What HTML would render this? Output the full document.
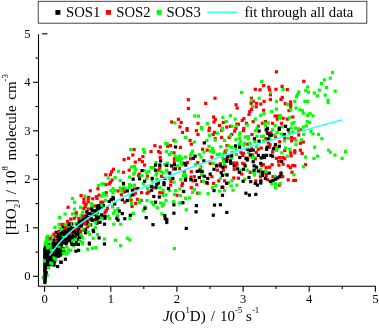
<!DOCTYPE html>
<html><head><meta charset="utf-8"><title>HO2 vs J(O1D)</title>
<style>html,body{margin:0;padding:0;background:#fff}svg{display:block}text{font-family:"Liberation Serif",serif;fill:#000}</style></head>
<body>
<svg width="379" height="328" viewBox="0 0 379 328">
<rect width="379" height="328" fill="#fff"/>
<g fill="#f00"><rect x="302.2" y="79.7" width="3.2" height="3.2"/><rect x="274.8" y="70.2" width="3.2" height="3.2"/><rect x="186.7" y="98.1" width="3.2" height="3.2"/><rect x="213.4" y="96.6" width="3.2" height="3.2"/><rect x="204.1" y="101.8" width="3.2" height="3.2"/><rect x="297.1" y="129.7" width="3.2" height="3.2"/><rect x="299.2" y="128.4" width="3.2" height="3.2"/><rect x="297.1" y="133.4" width="3.2" height="3.2"/><rect x="293.2" y="137.3" width="3.2" height="3.2"/><rect x="301.7" y="140.4" width="3.2" height="3.2"/><rect x="298.8" y="141.6" width="3.2" height="3.2"/><rect x="298.8" y="148.6" width="3.2" height="3.2"/><rect x="293.2" y="149.1" width="3.2" height="3.2"/><rect x="132.5" y="148.0" width="3.2" height="3.2"/><rect x="153.3" y="144.1" width="3.2" height="3.2"/><rect x="158.7" y="145.4" width="3.2" height="3.2"/><rect x="149.4" y="150.0" width="3.2" height="3.2"/><rect x="157.0" y="150.0" width="3.2" height="3.2"/><rect x="300.5" y="151.8" width="3.2" height="3.2"/><rect x="293.2" y="151.2" width="3.2" height="3.2"/><rect x="303.9" y="163.1" width="3.2" height="3.2"/><rect x="293.2" y="164.2" width="3.2" height="3.2"/><rect x="293.8" y="178.8" width="3.2" height="3.2"/><rect x="96.3" y="187.2" width="3.2" height="3.2"/><rect x="88.7" y="189.2" width="3.2" height="3.2"/><rect x="79.5" y="194.0" width="3.2" height="3.2"/><rect x="87.1" y="195.7" width="3.2" height="3.2"/><rect x="94.7" y="195.1" width="3.2" height="3.2"/><rect x="97.5" y="193.5" width="3.2" height="3.2"/><rect x="66.5" y="205.7" width="3.2" height="3.2"/><rect x="172.4" y="151.2" width="3.2" height="3.2"/><rect x="172.8" y="157.2" width="3.2" height="3.2"/><rect x="172.8" y="160.1" width="3.2" height="3.2"/><rect x="188.9" y="157.2" width="3.2" height="3.2"/><rect x="185.9" y="161.0" width="3.2" height="3.2"/><rect x="177.9" y="166.9" width="3.2" height="3.2"/><rect x="172.0" y="167.3" width="3.2" height="3.2"/><rect x="189.7" y="170.2" width="3.2" height="3.2"/><rect x="196.1" y="161.0" width="3.2" height="3.2"/><rect x="182.6" y="170.2" width="3.2" height="3.2"/><rect x="210.3" y="155.5" width="3.2" height="3.2"/><rect x="223.4" y="150.8" width="3.2" height="3.2"/><rect x="208.6" y="161.8" width="3.2" height="3.2"/><rect x="218.8" y="162.2" width="3.2" height="3.2"/><rect x="215.4" y="163.5" width="3.2" height="3.2"/><rect x="215.8" y="168.6" width="3.2" height="3.2"/><rect x="223.8" y="165.2" width="3.2" height="3.2"/><rect x="222.2" y="158.0" width="3.2" height="3.2"/><rect x="221.7" y="168.6" width="3.2" height="3.2"/><rect x="198.5" y="167.7" width="3.2" height="3.2"/><rect x="169.5" y="179.7" width="3.2" height="3.2"/><rect x="169.0" y="183.5" width="3.2" height="3.2"/><rect x="180.9" y="181.8" width="3.2" height="3.2"/><rect x="180.4" y="184.0" width="3.2" height="3.2"/><rect x="184.2" y="176.4" width="3.2" height="3.2"/><rect x="189.3" y="175.5" width="3.2" height="3.2"/><rect x="192.7" y="175.1" width="3.2" height="3.2"/><rect x="191.4" y="179.3" width="3.2" height="3.2"/><rect x="195.2" y="183.1" width="3.2" height="3.2"/><rect x="189.7" y="186.1" width="3.2" height="3.2"/><rect x="175.4" y="193.7" width="3.2" height="3.2"/><rect x="196.1" y="191.6" width="3.2" height="3.2"/><rect x="210.3" y="175.1" width="3.2" height="3.2"/><rect x="200.2" y="179.7" width="3.2" height="3.2"/><rect x="205.7" y="181.8" width="3.2" height="3.2"/><rect x="212.0" y="181.8" width="3.2" height="3.2"/><rect x="217.1" y="179.3" width="3.2" height="3.2"/><rect x="223.0" y="179.3" width="3.2" height="3.2"/><rect x="221.3" y="185.6" width="3.2" height="3.2"/><rect x="158.6" y="151.2" width="3.2" height="3.2"/><rect x="141.3" y="155.0" width="3.2" height="3.2"/><rect x="137.9" y="158.0" width="3.2" height="3.2"/><rect x="140.8" y="160.1" width="3.2" height="3.2"/><rect x="133.7" y="160.5" width="3.2" height="3.2"/><rect x="143.0" y="163.5" width="3.2" height="3.2"/><rect x="158.6" y="155.9" width="3.2" height="3.2"/><rect x="158.2" y="166.0" width="3.2" height="3.2"/><rect x="137.9" y="172.5" width="3.2" height="3.2"/><rect x="157.3" y="168.6" width="3.2" height="3.2"/><rect x="131.2" y="153.4" width="3.2" height="3.2"/><rect x="127.0" y="156.7" width="3.2" height="3.2"/><rect x="122.5" y="158.0" width="3.2" height="3.2"/><rect x="111.8" y="167.7" width="3.2" height="3.2"/><rect x="110.1" y="170.2" width="3.2" height="3.2"/><rect x="121.9" y="170.7" width="3.2" height="3.2"/><rect x="127.6" y="168.6" width="3.2" height="3.2"/><rect x="108.8" y="173.0" width="3.2" height="3.2"/><rect x="104.2" y="173.2" width="3.2" height="3.2"/><rect x="110.5" y="178.5" width="3.2" height="3.2"/><rect x="108.8" y="180.6" width="3.2" height="3.2"/><rect x="107.6" y="182.3" width="3.2" height="3.2"/><rect x="104.2" y="183.1" width="3.2" height="3.2"/><rect x="116.4" y="189.4" width="3.2" height="3.2"/><rect x="122.8" y="190.3" width="3.2" height="3.2"/><rect x="104.6" y="191.1" width="3.2" height="3.2"/><rect x="119.8" y="193.2" width="3.2" height="3.2"/><rect x="132.1" y="193.2" width="3.2" height="3.2"/><rect x="121.5" y="187.8" width="3.2" height="3.2"/><rect x="145.9" y="174.7" width="3.2" height="3.2"/><rect x="137.0" y="173.8" width="3.2" height="3.2"/><rect x="159.8" y="174.7" width="3.2" height="3.2"/><rect x="140.0" y="191.1" width="3.2" height="3.2"/><rect x="145.5" y="191.6" width="3.2" height="3.2"/><rect x="147.2" y="190.3" width="3.2" height="3.2"/><rect x="158.2" y="191.1" width="3.2" height="3.2"/><rect x="133.7" y="191.6" width="3.2" height="3.2"/><rect x="133.2" y="187.3" width="3.2" height="3.2"/><rect x="161.1" y="191.1" width="3.2" height="3.2"/><rect x="151.4" y="185.6" width="3.2" height="3.2"/><rect x="239.4" y="151.2" width="3.2" height="3.2"/><rect x="241.9" y="151.7" width="3.2" height="3.2"/><rect x="241.1" y="153.8" width="3.2" height="3.2"/><rect x="250.8" y="153.4" width="3.2" height="3.2"/><rect x="254.6" y="150.8" width="3.2" height="3.2"/><rect x="253.7" y="157.2" width="3.2" height="3.2"/><rect x="232.2" y="161.4" width="3.2" height="3.2"/><rect x="235.2" y="161.4" width="3.2" height="3.2"/><rect x="235.2" y="163.5" width="3.2" height="3.2"/><rect x="241.1" y="161.8" width="3.2" height="3.2"/><rect x="242.8" y="162.6" width="3.2" height="3.2"/><rect x="246.1" y="156.7" width="3.2" height="3.2"/><rect x="232.6" y="167.7" width="3.2" height="3.2"/><rect x="240.2" y="172.4" width="3.2" height="3.2"/><rect x="248.7" y="170.7" width="3.2" height="3.2"/><rect x="259.2" y="170.2" width="3.2" height="3.2"/><rect x="260.1" y="163.9" width="3.2" height="3.2"/><rect x="271.0" y="150.4" width="3.2" height="3.2"/><rect x="289.1" y="151.2" width="3.2" height="3.2"/><rect x="289.5" y="154.2" width="3.2" height="3.2"/><rect x="274.8" y="156.7" width="3.2" height="3.2"/><rect x="278.1" y="155.9" width="3.2" height="3.2"/><rect x="281.5" y="155.9" width="3.2" height="3.2"/><rect x="283.2" y="157.2" width="3.2" height="3.2"/><rect x="276.9" y="159.7" width="3.2" height="3.2"/><rect x="270.5" y="163.1" width="3.2" height="3.2"/><rect x="277.3" y="163.5" width="3.2" height="3.2"/><rect x="281.5" y="162.6" width="3.2" height="3.2"/><rect x="261.7" y="163.1" width="3.2" height="3.2"/><rect x="264.6" y="166.0" width="3.2" height="3.2"/><rect x="268.0" y="165.6" width="3.2" height="3.2"/><rect x="286.6" y="164.3" width="3.2" height="3.2"/><rect x="288.7" y="166.0" width="3.2" height="3.2"/><rect x="291.2" y="163.9" width="3.2" height="3.2"/><rect x="290.4" y="170.7" width="3.2" height="3.2"/><rect x="279.4" y="171.1" width="3.2" height="3.2"/><rect x="264.6" y="172.5" width="3.2" height="3.2"/><rect x="232.2" y="176.4" width="3.2" height="3.2"/><rect x="236.8" y="176.6" width="3.2" height="3.2"/><rect x="254.2" y="179.3" width="3.2" height="3.2"/><rect x="258.8" y="175.1" width="3.2" height="3.2"/><rect x="264.6" y="174.2" width="3.2" height="3.2"/><rect x="265.9" y="178.0" width="3.2" height="3.2"/><rect x="271.4" y="175.1" width="3.2" height="3.2"/><rect x="281.1" y="175.1" width="3.2" height="3.2"/><rect x="286.6" y="178.3" width="3.2" height="3.2"/><rect x="277.7" y="183.5" width="3.2" height="3.2"/><rect x="292.1" y="178.9" width="3.2" height="3.2"/><rect x="233.0" y="129.5" width="3.2" height="3.2"/><rect x="241.9" y="129.1" width="3.2" height="3.2"/><rect x="230.1" y="132.9" width="3.2" height="3.2"/><rect x="250.4" y="132.9" width="3.2" height="3.2"/><rect x="246.1" y="142.6" width="3.2" height="3.2"/><rect x="249.9" y="147.2" width="3.2" height="3.2"/><rect x="256.7" y="147.7" width="3.2" height="3.2"/><rect x="259.6" y="146.4" width="3.2" height="3.2"/><rect x="265.5" y="130.4" width="3.2" height="3.2"/><rect x="269.3" y="131.2" width="3.2" height="3.2"/><rect x="264.2" y="137.1" width="3.2" height="3.2"/><rect x="273.9" y="135.4" width="3.2" height="3.2"/><rect x="278.1" y="140.1" width="3.2" height="3.2"/><rect x="268.4" y="143.0" width="3.2" height="3.2"/><rect x="266.7" y="141.3" width="3.2" height="3.2"/><rect x="290.0" y="135.8" width="3.2" height="3.2"/><rect x="290.0" y="139.2" width="3.2" height="3.2"/><rect x="273.1" y="145.6" width="3.2" height="3.2"/><rect x="283.2" y="148.9" width="3.2" height="3.2"/><rect x="267.6" y="145.6" width="3.2" height="3.2"/><rect x="283.2" y="136.7" width="3.2" height="3.2"/><rect x="235.6" y="106.5" width="3.2" height="3.2"/><rect x="254.6" y="105.2" width="3.2" height="3.2"/><rect x="249.9" y="107.8" width="3.2" height="3.2"/><rect x="248.2" y="109.9" width="3.2" height="3.2"/><rect x="247.4" y="112.8" width="3.2" height="3.2"/><rect x="242.3" y="117.1" width="3.2" height="3.2"/><rect x="240.6" y="118.8" width="3.2" height="3.2"/><rect x="251.6" y="120.0" width="3.2" height="3.2"/><rect x="236.8" y="122.6" width="3.2" height="3.2"/><rect x="235.2" y="122.6" width="3.2" height="3.2"/><rect x="244.9" y="121.7" width="3.2" height="3.2"/><rect x="256.7" y="124.7" width="3.2" height="3.2"/><rect x="242.3" y="126.8" width="3.2" height="3.2"/><rect x="228.8" y="124.7" width="3.2" height="3.2"/><rect x="234.3" y="126.8" width="3.2" height="3.2"/><rect x="262.1" y="108.6" width="3.2" height="3.2"/><rect x="287.4" y="109.0" width="3.2" height="3.2"/><rect x="273.5" y="114.5" width="3.2" height="3.2"/><rect x="276.0" y="114.5" width="3.2" height="3.2"/><rect x="275.6" y="117.5" width="3.2" height="3.2"/><rect x="281.5" y="116.6" width="3.2" height="3.2"/><rect x="285.7" y="117.5" width="3.2" height="3.2"/><rect x="291.2" y="115.4" width="3.2" height="3.2"/><rect x="263.8" y="120.0" width="3.2" height="3.2"/><rect x="271.0" y="121.7" width="3.2" height="3.2"/><rect x="279.8" y="121.7" width="3.2" height="3.2"/><rect x="260.8" y="121.7" width="3.2" height="3.2"/><rect x="289.1" y="104.8" width="3.2" height="3.2"/><rect x="207.4" y="129.1" width="3.2" height="3.2"/><rect x="212.9" y="130.8" width="3.2" height="3.2"/><rect x="211.6" y="132.9" width="3.2" height="3.2"/><rect x="220.0" y="128.7" width="3.2" height="3.2"/><rect x="220.0" y="135.8" width="3.2" height="3.2"/><rect x="213.7" y="137.1" width="3.2" height="3.2"/><rect x="196.4" y="132.9" width="3.2" height="3.2"/><rect x="225.5" y="143.9" width="3.2" height="3.2"/><rect x="201.0" y="147.7" width="3.2" height="3.2"/><rect x="205.7" y="148.5" width="3.2" height="3.2"/><rect x="223.8" y="149.5" width="3.2" height="3.2"/><rect x="227.6" y="135.8" width="3.2" height="3.2"/><rect x="185.5" y="128.7" width="3.2" height="3.2"/><rect x="180.9" y="130.8" width="3.2" height="3.2"/><rect x="194.8" y="129.1" width="3.2" height="3.2"/><rect x="172.4" y="138.8" width="3.2" height="3.2"/><rect x="188.5" y="138.8" width="3.2" height="3.2"/><rect x="189.7" y="142.6" width="3.2" height="3.2"/><rect x="169.0" y="143.9" width="3.2" height="3.2"/><rect x="166.1" y="144.7" width="3.2" height="3.2"/><rect x="178.8" y="145.8" width="3.2" height="3.2"/><rect x="212.0" y="115.4" width="3.2" height="3.2"/><rect x="213.7" y="117.9" width="3.2" height="3.2"/><rect x="212.4" y="120.4" width="3.2" height="3.2"/><rect x="221.7" y="120.9" width="3.2" height="3.2"/><rect x="217.9" y="123.8" width="3.2" height="3.2"/><rect x="225.1" y="125.5" width="3.2" height="3.2"/><rect x="207.8" y="126.5" width="3.2" height="3.2"/><rect x="196.4" y="121.7" width="3.2" height="3.2"/><rect x="186.8" y="106.9" width="3.2" height="3.2"/><rect x="176.8" y="117.7" width="3.2" height="3.2"/><rect x="170.1" y="120.4" width="3.2" height="3.2"/><rect x="179.6" y="120.9" width="3.2" height="3.2"/><rect x="178.3" y="125.3" width="3.2" height="3.2"/><rect x="185.5" y="127.0" width="3.2" height="3.2"/><rect x="253.7" y="87.7" width="3.2" height="3.2"/><rect x="258.4" y="88.2" width="3.2" height="3.2"/><rect x="249.9" y="96.6" width="3.2" height="3.2"/><rect x="251.6" y="99.6" width="3.2" height="3.2"/><rect x="249.5" y="101.7" width="3.2" height="3.2"/><rect x="255.0" y="101.7" width="3.2" height="3.2"/><rect x="259.2" y="102.5" width="3.2" height="3.2"/><rect x="234.5" y="103.2" width="3.2" height="3.2"/><rect x="262.1" y="83.9" width="3.2" height="3.2"/><rect x="267.2" y="85.6" width="3.2" height="3.2"/><rect x="268.0" y="88.2" width="3.2" height="3.2"/><rect x="274.3" y="87.7" width="3.2" height="3.2"/><rect x="280.5" y="84.8" width="3.2" height="3.2"/><rect x="285.7" y="88.0" width="3.2" height="3.2"/><rect x="268.8" y="93.2" width="3.2" height="3.2"/><rect x="268.8" y="97.9" width="3.2" height="3.2"/><rect x="262.5" y="99.8" width="3.2" height="3.2"/><rect x="280.7" y="95.8" width="3.2" height="3.2"/><rect x="279.4" y="97.9" width="3.2" height="3.2"/><rect x="288.9" y="100.4" width="3.2" height="3.2"/><rect x="283.6" y="102.1" width="3.2" height="3.2"/><rect x="289.1" y="102.9" width="3.2" height="3.2"/><rect x="101.2" y="200.6" width="3.2" height="3.2"/><rect x="123.2" y="200.6" width="3.2" height="3.2"/><rect x="129.5" y="198.5" width="3.2" height="3.2"/><rect x="130.4" y="204.8" width="3.2" height="3.2"/><rect x="104.6" y="209.1" width="3.2" height="3.2"/><rect x="103.4" y="210.8" width="3.2" height="3.2"/><rect x="100.8" y="214.6" width="3.2" height="3.2"/><rect x="105.9" y="206.5" width="3.2" height="3.2"/><rect x="135.8" y="197.7" width="3.2" height="3.2"/><rect x="134.1" y="201.9" width="3.2" height="3.2"/><rect x="139.6" y="198.9" width="3.2" height="3.2"/></g>
<g fill="#0f0"><rect x="330.9" y="70.9" width="3.2" height="3.2"/><rect x="328.7" y="76.6" width="3.2" height="3.2"/><rect x="322.8" y="78.3" width="3.2" height="3.2"/><rect x="319.8" y="82.0" width="3.2" height="3.2"/><rect x="325.0" y="85.9" width="3.2" height="3.2"/><rect x="317.7" y="88.5" width="3.2" height="3.2"/><rect x="305.9" y="85.4" width="3.2" height="3.2"/><rect x="304.2" y="89.0" width="3.2" height="3.2"/><rect x="306.8" y="90.5" width="3.2" height="3.2"/><rect x="312.7" y="91.5" width="3.2" height="3.2"/><rect x="315.7" y="94.2" width="3.2" height="3.2"/><rect x="323.6" y="93.5" width="3.2" height="3.2"/><rect x="333.6" y="89.5" width="3.2" height="3.2"/><rect x="297.1" y="90.5" width="3.2" height="3.2"/><rect x="296.1" y="93.0" width="3.2" height="3.2"/><rect x="294.8" y="95.2" width="3.2" height="3.2"/><rect x="293.2" y="99.8" width="3.2" height="3.2"/><rect x="303.4" y="99.8" width="3.2" height="3.2"/><rect x="305.9" y="99.8" width="3.2" height="3.2"/><rect x="326.5" y="98.6" width="3.2" height="3.2"/><rect x="326.5" y="101.0" width="3.2" height="3.2"/><rect x="260.1" y="79.7" width="3.2" height="3.2"/><rect x="294.4" y="106.4" width="3.2" height="3.2"/><rect x="298.3" y="108.1" width="3.2" height="3.2"/><rect x="300.8" y="109.1" width="3.2" height="3.2"/><rect x="301.7" y="111.5" width="3.2" height="3.2"/><rect x="308.4" y="112.0" width="3.2" height="3.2"/><rect x="305.9" y="113.7" width="3.2" height="3.2"/><rect x="311.3" y="114.2" width="3.2" height="3.2"/><rect x="305.6" y="119.9" width="3.2" height="3.2"/><rect x="307.9" y="120.9" width="3.2" height="3.2"/><rect x="292.4" y="120.9" width="3.2" height="3.2"/><rect x="304.6" y="124.3" width="3.2" height="3.2"/><rect x="301.7" y="125.5" width="3.2" height="3.2"/><rect x="293.8" y="126.4" width="3.2" height="3.2"/><rect x="297.1" y="127.2" width="3.2" height="3.2"/><rect x="309.3" y="129.7" width="3.2" height="3.2"/><rect x="311.3" y="132.3" width="3.2" height="3.2"/><rect x="302.2" y="132.8" width="3.2" height="3.2"/><rect x="316.9" y="132.8" width="3.2" height="3.2"/><rect x="320.3" y="137.0" width="3.2" height="3.2"/><rect x="300.0" y="138.2" width="3.2" height="3.2"/><rect x="294.4" y="139.0" width="3.2" height="3.2"/><rect x="294.4" y="142.9" width="3.2" height="3.2"/><rect x="313.0" y="145.6" width="3.2" height="3.2"/><rect x="327.0" y="148.6" width="3.2" height="3.2"/><rect x="343.9" y="149.7" width="3.2" height="3.2"/><rect x="129.1" y="148.0" width="3.2" height="3.2"/><rect x="141.8" y="148.0" width="3.2" height="3.2"/><rect x="164.2" y="141.9" width="3.2" height="3.2"/><rect x="303.9" y="155.5" width="3.2" height="3.2"/><rect x="312.3" y="156.8" width="3.2" height="3.2"/><rect x="316.0" y="154.6" width="3.2" height="3.2"/><rect x="328.7" y="150.7" width="3.2" height="3.2"/><rect x="333.3" y="153.4" width="3.2" height="3.2"/><rect x="340.5" y="156.8" width="3.2" height="3.2"/><rect x="343.9" y="150.4" width="3.2" height="3.2"/><rect x="302.0" y="165.1" width="3.2" height="3.2"/><rect x="292.4" y="173.2" width="3.2" height="3.2"/><rect x="96.9" y="183.8" width="3.2" height="3.2"/><rect x="83.3" y="194.6" width="3.2" height="3.2"/><rect x="100.2" y="194.6" width="3.2" height="3.2"/><rect x="100.2" y="182.5" width="3.2" height="3.2"/><rect x="172.0" y="200.1" width="3.2" height="3.2"/><rect x="177.9" y="201.5" width="3.2" height="3.2"/><rect x="183.8" y="196.7" width="3.2" height="3.2"/><rect x="187.7" y="196.4" width="3.2" height="3.2"/><rect x="184.7" y="208.2" width="3.2" height="3.2"/><rect x="164.4" y="198.9" width="3.2" height="3.2"/><rect x="112.2" y="222.6" width="3.2" height="3.2"/><rect x="119.0" y="222.6" width="3.2" height="3.2"/><rect x="102.9" y="237.4" width="3.2" height="3.2"/><rect x="113.9" y="238.6" width="3.2" height="3.2"/><rect x="125.7" y="236.6" width="3.2" height="3.2"/><rect x="128.3" y="238.3" width="3.2" height="3.2"/><rect x="58.0" y="215.8" width="3.2" height="3.2"/><rect x="63.4" y="212.4" width="3.2" height="3.2"/><rect x="119.0" y="244.1" width="3.2" height="3.2"/><rect x="172.8" y="246.9" width="3.2" height="3.2"/><rect x="167.8" y="152.9" width="3.2" height="3.2"/><rect x="169.9" y="151.1" width="3.2" height="3.2"/><rect x="165.7" y="161.4" width="3.2" height="3.2"/><rect x="164.8" y="168.6" width="3.2" height="3.2"/><rect x="173.7" y="154.6" width="3.2" height="3.2"/><rect x="175.8" y="156.7" width="3.2" height="3.2"/><rect x="175.0" y="158.8" width="3.2" height="3.2"/><rect x="177.9" y="154.6" width="3.2" height="3.2"/><rect x="180.0" y="156.7" width="3.2" height="3.2"/><rect x="177.9" y="158.4" width="3.2" height="3.2"/><rect x="183.8" y="155.5" width="3.2" height="3.2"/><rect x="180.0" y="161.0" width="3.2" height="3.2"/><rect x="180.4" y="163.5" width="3.2" height="3.2"/><rect x="175.8" y="164.3" width="3.2" height="3.2"/><rect x="188.9" y="153.4" width="3.2" height="3.2"/><rect x="190.2" y="151.7" width="3.2" height="3.2"/><rect x="194.0" y="163.1" width="3.2" height="3.2"/><rect x="182.6" y="172.4" width="3.2" height="3.2"/><rect x="166.5" y="171.1" width="3.2" height="3.2"/><rect x="197.7" y="152.9" width="3.2" height="3.2"/><rect x="199.4" y="155.5" width="3.2" height="3.2"/><rect x="202.3" y="150.4" width="3.2" height="3.2"/><rect x="211.6" y="150.8" width="3.2" height="3.2"/><rect x="215.8" y="152.9" width="3.2" height="3.2"/><rect x="217.9" y="152.5" width="3.2" height="3.2"/><rect x="222.2" y="152.5" width="3.2" height="3.2"/><rect x="220.9" y="155.9" width="3.2" height="3.2"/><rect x="211.6" y="161.8" width="3.2" height="3.2"/><rect x="222.2" y="160.1" width="3.2" height="3.2"/><rect x="222.6" y="162.2" width="3.2" height="3.2"/><rect x="199.4" y="165.2" width="3.2" height="3.2"/><rect x="224.3" y="172.8" width="3.2" height="3.2"/><rect x="200.2" y="172.4" width="3.2" height="3.2"/><rect x="168.2" y="176.8" width="3.2" height="3.2"/><rect x="172.4" y="180.6" width="3.2" height="3.2"/><rect x="179.2" y="178.0" width="3.2" height="3.2"/><rect x="181.7" y="174.2" width="3.2" height="3.2"/><rect x="183.8" y="173.8" width="3.2" height="3.2"/><rect x="178.3" y="187.3" width="3.2" height="3.2"/><rect x="174.1" y="189.0" width="3.2" height="3.2"/><rect x="167.8" y="189.0" width="3.2" height="3.2"/><rect x="172.8" y="192.8" width="3.2" height="3.2"/><rect x="178.8" y="194.1" width="3.2" height="3.2"/><rect x="192.7" y="187.8" width="3.2" height="3.2"/><rect x="191.0" y="190.7" width="3.2" height="3.2"/><rect x="164.4" y="193.2" width="3.2" height="3.2"/><rect x="200.2" y="173.8" width="3.2" height="3.2"/><rect x="201.9" y="179.7" width="3.2" height="3.2"/><rect x="218.8" y="176.8" width="3.2" height="3.2"/><rect x="214.1" y="184.0" width="3.2" height="3.2"/><rect x="210.8" y="186.1" width="3.2" height="3.2"/><rect x="217.9" y="189.4" width="3.2" height="3.2"/><rect x="223.0" y="189.0" width="3.2" height="3.2"/><rect x="197.7" y="191.6" width="3.2" height="3.2"/><rect x="206.5" y="192.0" width="3.2" height="3.2"/><rect x="227.2" y="181.0" width="3.2" height="3.2"/><rect x="143.0" y="150.8" width="3.2" height="3.2"/><rect x="154.4" y="161.0" width="3.2" height="3.2"/><rect x="163.2" y="163.1" width="3.2" height="3.2"/><rect x="132.8" y="164.8" width="3.2" height="3.2"/><rect x="134.1" y="167.7" width="3.2" height="3.2"/><rect x="149.3" y="166.0" width="3.2" height="3.2"/><rect x="151.8" y="166.0" width="3.2" height="3.2"/><rect x="143.0" y="169.0" width="3.2" height="3.2"/><rect x="147.2" y="169.8" width="3.2" height="3.2"/><rect x="145.1" y="171.5" width="3.2" height="3.2"/><rect x="159.4" y="169.8" width="3.2" height="3.2"/><rect x="161.5" y="171.5" width="3.2" height="3.2"/><rect x="155.2" y="171.9" width="3.2" height="3.2"/><rect x="133.2" y="171.1" width="3.2" height="3.2"/><rect x="130.0" y="165.4" width="3.2" height="3.2"/><rect x="116.9" y="169.7" width="3.2" height="3.2"/><rect x="132.1" y="172.5" width="3.2" height="3.2"/><rect x="106.7" y="176.4" width="3.2" height="3.2"/><rect x="113.5" y="175.9" width="3.2" height="3.2"/><rect x="118.6" y="178.9" width="3.2" height="3.2"/><rect x="127.8" y="175.5" width="3.2" height="3.2"/><rect x="101.7" y="182.3" width="3.2" height="3.2"/><rect x="127.8" y="183.1" width="3.2" height="3.2"/><rect x="129.5" y="184.0" width="3.2" height="3.2"/><rect x="127.4" y="186.1" width="3.2" height="3.2"/><rect x="121.9" y="184.4" width="3.2" height="3.2"/><rect x="118.6" y="186.5" width="3.2" height="3.2"/><rect x="123.6" y="186.9" width="3.2" height="3.2"/><rect x="111.4" y="186.9" width="3.2" height="3.2"/><rect x="109.3" y="189.0" width="3.2" height="3.2"/><rect x="113.1" y="189.0" width="3.2" height="3.2"/><rect x="111.4" y="191.1" width="3.2" height="3.2"/><rect x="120.2" y="189.4" width="3.2" height="3.2"/><rect x="101.7" y="192.0" width="3.2" height="3.2"/><rect x="104.6" y="193.7" width="3.2" height="3.2"/><rect x="128.7" y="195.5" width="3.2" height="3.2"/><rect x="140.0" y="173.8" width="3.2" height="3.2"/><rect x="145.1" y="176.8" width="3.2" height="3.2"/><rect x="154.4" y="173.4" width="3.2" height="3.2"/><rect x="141.7" y="181.8" width="3.2" height="3.2"/><rect x="145.9" y="186.9" width="3.2" height="3.2"/><rect x="155.2" y="177.6" width="3.2" height="3.2"/><rect x="158.2" y="186.1" width="3.2" height="3.2"/><rect x="161.5" y="188.6" width="3.2" height="3.2"/><rect x="161.5" y="193.7" width="3.2" height="3.2"/><rect x="132.8" y="183.5" width="3.2" height="3.2"/><rect x="150.6" y="179.3" width="3.2" height="3.2"/><rect x="234.7" y="152.9" width="3.2" height="3.2"/><rect x="229.7" y="156.7" width="3.2" height="3.2"/><rect x="247.0" y="150.8" width="3.2" height="3.2"/><rect x="250.4" y="155.9" width="3.2" height="3.2"/><rect x="252.0" y="155.5" width="3.2" height="3.2"/><rect x="239.4" y="168.6" width="3.2" height="3.2"/><rect x="245.7" y="168.6" width="3.2" height="3.2"/><rect x="259.2" y="167.7" width="3.2" height="3.2"/><rect x="251.2" y="170.7" width="3.2" height="3.2"/><rect x="252.9" y="171.9" width="3.2" height="3.2"/><rect x="258.8" y="172.8" width="3.2" height="3.2"/><rect x="230.5" y="150.8" width="3.2" height="3.2"/><rect x="280.2" y="151.2" width="3.2" height="3.2"/><rect x="285.7" y="154.6" width="3.2" height="3.2"/><rect x="264.2" y="169.4" width="3.2" height="3.2"/><rect x="260.8" y="156.3" width="3.2" height="3.2"/><rect x="230.5" y="178.9" width="3.2" height="3.2"/><rect x="229.7" y="184.4" width="3.2" height="3.2"/><rect x="235.2" y="183.5" width="3.2" height="3.2"/><rect x="231.4" y="188.6" width="3.2" height="3.2"/><rect x="243.2" y="177.6" width="3.2" height="3.2"/><rect x="252.9" y="173.4" width="3.2" height="3.2"/><rect x="273.5" y="174.7" width="3.2" height="3.2"/><rect x="270.1" y="181.8" width="3.2" height="3.2"/><rect x="273.9" y="182.3" width="3.2" height="3.2"/><rect x="273.9" y="186.1" width="3.2" height="3.2"/><rect x="278.6" y="181.8" width="3.2" height="3.2"/><rect x="238.5" y="131.2" width="3.2" height="3.2"/><rect x="237.7" y="133.3" width="3.2" height="3.2"/><rect x="228.8" y="134.2" width="3.2" height="3.2"/><rect x="234.3" y="138.0" width="3.2" height="3.2"/><rect x="238.1" y="136.7" width="3.2" height="3.2"/><rect x="239.0" y="140.1" width="3.2" height="3.2"/><rect x="237.7" y="142.6" width="3.2" height="3.2"/><rect x="243.6" y="135.4" width="3.2" height="3.2"/><rect x="246.6" y="135.0" width="3.2" height="3.2"/><rect x="246.6" y="137.1" width="3.2" height="3.2"/><rect x="242.8" y="141.8" width="3.2" height="3.2"/><rect x="242.3" y="143.4" width="3.2" height="3.2"/><rect x="248.2" y="141.8" width="3.2" height="3.2"/><rect x="230.1" y="145.6" width="3.2" height="3.2"/><rect x="234.3" y="147.2" width="3.2" height="3.2"/><rect x="253.7" y="129.1" width="3.2" height="3.2"/><rect x="255.4" y="134.6" width="3.2" height="3.2"/><rect x="253.3" y="140.1" width="3.2" height="3.2"/><rect x="255.0" y="145.1" width="3.2" height="3.2"/><rect x="260.1" y="135.0" width="3.2" height="3.2"/><rect x="271.0" y="128.2" width="3.2" height="3.2"/><rect x="275.6" y="130.8" width="3.2" height="3.2"/><rect x="273.1" y="133.3" width="3.2" height="3.2"/><rect x="279.8" y="132.5" width="3.2" height="3.2"/><rect x="261.7" y="134.6" width="3.2" height="3.2"/><rect x="262.1" y="139.2" width="3.2" height="3.2"/><rect x="268.0" y="135.8" width="3.2" height="3.2"/><rect x="282.8" y="139.2" width="3.2" height="3.2"/><rect x="286.6" y="136.7" width="3.2" height="3.2"/><rect x="287.4" y="130.8" width="3.2" height="3.2"/><rect x="291.2" y="130.4" width="3.2" height="3.2"/><rect x="275.6" y="146.8" width="3.2" height="3.2"/><rect x="284.0" y="146.4" width="3.2" height="3.2"/><rect x="288.3" y="147.7" width="3.2" height="3.2"/><rect x="274.8" y="148.9" width="3.2" height="3.2"/><rect x="250.8" y="104.8" width="3.2" height="3.2"/><rect x="228.8" y="114.1" width="3.2" height="3.2"/><rect x="233.5" y="117.5" width="3.2" height="3.2"/><rect x="253.7" y="117.5" width="3.2" height="3.2"/><rect x="259.2" y="113.7" width="3.2" height="3.2"/><rect x="230.5" y="124.7" width="3.2" height="3.2"/><rect x="234.7" y="124.2" width="3.2" height="3.2"/><rect x="245.7" y="123.4" width="3.2" height="3.2"/><rect x="255.4" y="126.4" width="3.2" height="3.2"/><rect x="274.8" y="107.4" width="3.2" height="3.2"/><rect x="270.1" y="109.9" width="3.2" height="3.2"/><rect x="262.5" y="112.0" width="3.2" height="3.2"/><rect x="278.6" y="113.7" width="3.2" height="3.2"/><rect x="278.1" y="116.6" width="3.2" height="3.2"/><rect x="287.8" y="116.2" width="3.2" height="3.2"/><rect x="289.1" y="107.8" width="3.2" height="3.2"/><rect x="266.7" y="121.3" width="3.2" height="3.2"/><rect x="262.9" y="122.1" width="3.2" height="3.2"/><rect x="263.8" y="124.2" width="3.2" height="3.2"/><rect x="273.5" y="123.8" width="3.2" height="3.2"/><rect x="280.7" y="125.1" width="3.2" height="3.2"/><rect x="290.4" y="122.1" width="3.2" height="3.2"/><rect x="289.5" y="126.5" width="3.2" height="3.2"/><rect x="200.2" y="127.4" width="3.2" height="3.2"/><rect x="207.8" y="133.7" width="3.2" height="3.2"/><rect x="215.8" y="131.6" width="3.2" height="3.2"/><rect x="220.9" y="127.8" width="3.2" height="3.2"/><rect x="205.3" y="138.8" width="3.2" height="3.2"/><rect x="213.7" y="138.4" width="3.2" height="3.2"/><rect x="223.0" y="138.8" width="3.2" height="3.2"/><rect x="207.4" y="144.7" width="3.2" height="3.2"/><rect x="210.8" y="146.8" width="3.2" height="3.2"/><rect x="219.2" y="145.1" width="3.2" height="3.2"/><rect x="227.2" y="144.3" width="3.2" height="3.2"/><rect x="208.6" y="149.5" width="3.2" height="3.2"/><rect x="225.1" y="148.5" width="3.2" height="3.2"/><rect x="212.0" y="149.5" width="3.2" height="3.2"/><rect x="183.8" y="135.8" width="3.2" height="3.2"/><rect x="173.7" y="139.6" width="3.2" height="3.2"/><rect x="165.7" y="142.2" width="3.2" height="3.2"/><rect x="192.7" y="140.5" width="3.2" height="3.2"/><rect x="191.0" y="149.5" width="3.2" height="3.2"/><rect x="164.8" y="150.0" width="3.2" height="3.2"/><rect x="196.8" y="114.5" width="3.2" height="3.2"/><rect x="221.3" y="115.8" width="3.2" height="3.2"/><rect x="224.7" y="120.0" width="3.2" height="3.2"/><rect x="205.7" y="122.0" width="3.2" height="3.2"/><rect x="199.8" y="125.9" width="3.2" height="3.2"/><rect x="220.9" y="126.5" width="3.2" height="3.2"/><rect x="193.1" y="114.4" width="3.2" height="3.2"/><rect x="173.3" y="121.3" width="3.2" height="3.2"/><rect x="240.1" y="90.9" width="3.2" height="3.2"/><rect x="257.5" y="96.6" width="3.2" height="3.2"/><rect x="249.7" y="98.7" width="3.2" height="3.2"/><rect x="281.5" y="88.0" width="3.2" height="3.2"/><rect x="268.8" y="91.1" width="3.2" height="3.2"/><rect x="274.8" y="99.8" width="3.2" height="3.2"/><rect x="285.7" y="102.9" width="3.2" height="3.2"/><rect x="103.8" y="198.9" width="3.2" height="3.2"/><rect x="130.0" y="201.9" width="3.2" height="3.2"/><rect x="111.0" y="205.3" width="3.2" height="3.2"/><rect x="116.4" y="207.0" width="3.2" height="3.2"/><rect x="113.5" y="209.1" width="3.2" height="3.2"/><rect x="111.8" y="211.6" width="3.2" height="3.2"/><rect x="116.0" y="213.7" width="3.2" height="3.2"/><rect x="106.7" y="214.6" width="3.2" height="3.2"/><rect x="108.0" y="216.7" width="3.2" height="3.2"/><rect x="100.8" y="216.7" width="3.2" height="3.2"/><rect x="128.3" y="217.1" width="3.2" height="3.2"/><rect x="131.6" y="212.0" width="3.2" height="3.2"/><rect x="138.3" y="198.5" width="3.2" height="3.2"/><rect x="137.9" y="201.0" width="3.2" height="3.2"/><rect x="145.5" y="198.9" width="3.2" height="3.2"/><rect x="150.1" y="200.6" width="3.2" height="3.2"/><rect x="151.8" y="203.2" width="3.2" height="3.2"/><rect x="155.6" y="206.1" width="3.2" height="3.2"/><rect x="159.0" y="201.5" width="3.2" height="3.2"/><rect x="162.0" y="202.3" width="3.2" height="3.2"/><rect x="161.1" y="204.4" width="3.2" height="3.2"/><rect x="141.7" y="209.1" width="3.2" height="3.2"/><rect x="160.3" y="212.4" width="3.2" height="3.2"/><rect x="143.4" y="205.3" width="3.2" height="3.2"/><rect x="71.8" y="244.1" width="3.2" height="3.2"/><rect x="80.6" y="242.4" width="3.2" height="3.2"/><rect x="69.2" y="248.7" width="3.2" height="3.2"/><rect x="77.3" y="248.7" width="3.2" height="3.2"/><rect x="86.1" y="247.5" width="3.2" height="3.2"/><rect x="90.8" y="246.6" width="3.2" height="3.2"/><rect x="94.2" y="245.9" width="3.2" height="3.2"/><rect x="65.1" y="244.9" width="3.2" height="3.2"/><rect x="61.7" y="247.5" width="3.2" height="3.2"/><rect x="66.8" y="248.3" width="3.2" height="3.2"/><rect x="60.9" y="251.7" width="3.2" height="3.2"/><rect x="64.3" y="252.5" width="3.2" height="3.2"/><rect x="57.5" y="245.8" width="3.2" height="3.2"/><rect x="59.2" y="244.1" width="3.2" height="3.2"/><rect x="63.0" y="250.4" width="3.2" height="3.2"/><rect x="66.4" y="251.3" width="3.2" height="3.2"/><rect x="60.0" y="248.7" width="3.2" height="3.2"/><rect x="41.8" y="275.9" width="3.2" height="3.2"/><rect x="45.4" y="273.8" width="3.2" height="3.2"/></g>
<g fill="#000"><rect x="172.3" y="203.2" width="3.2" height="3.2"/><rect x="181.3" y="201.1" width="3.2" height="3.2"/><rect x="194.8" y="204.0" width="3.2" height="3.2"/><rect x="212.9" y="203.5" width="3.2" height="3.2"/><rect x="218.8" y="203.2" width="3.2" height="3.2"/><rect x="172.3" y="211.6" width="3.2" height="3.2"/><rect x="194.5" y="210.2" width="3.2" height="3.2"/><rect x="211.7" y="213.6" width="3.2" height="3.2"/><rect x="225.2" y="210.8" width="3.2" height="3.2"/><rect x="165.2" y="218.0" width="3.2" height="3.2"/><rect x="165.2" y="220.9" width="3.2" height="3.2"/><rect x="184.7" y="226.8" width="3.2" height="3.2"/><rect x="102.9" y="222.6" width="3.2" height="3.2"/><rect x="151.4" y="223.1" width="3.2" height="3.2"/><rect x="102.9" y="242.4" width="3.2" height="3.2"/><rect x="193.5" y="154.6" width="3.2" height="3.2"/><rect x="191.8" y="156.7" width="3.2" height="3.2"/><rect x="183.0" y="161.8" width="3.2" height="3.2"/><rect x="184.2" y="163.5" width="3.2" height="3.2"/><rect x="172.8" y="163.1" width="3.2" height="3.2"/><rect x="169.9" y="164.3" width="3.2" height="3.2"/><rect x="165.2" y="163.9" width="3.2" height="3.2"/><rect x="173.7" y="167.3" width="3.2" height="3.2"/><rect x="168.2" y="171.5" width="3.2" height="3.2"/><rect x="195.6" y="169.8" width="3.2" height="3.2"/><rect x="202.3" y="159.3" width="3.2" height="3.2"/><rect x="225.5" y="156.7" width="3.2" height="3.2"/><rect x="226.4" y="154.6" width="3.2" height="3.2"/><rect x="225.1" y="159.7" width="3.2" height="3.2"/><rect x="215.0" y="164.3" width="3.2" height="3.2"/><rect x="218.8" y="164.3" width="3.2" height="3.2"/><rect x="221.3" y="165.6" width="3.2" height="3.2"/><rect x="212.4" y="167.7" width="3.2" height="3.2"/><rect x="197.7" y="169.4" width="3.2" height="3.2"/><rect x="200.6" y="169.8" width="3.2" height="3.2"/><rect x="219.6" y="171.1" width="3.2" height="3.2"/><rect x="208.6" y="172.5" width="3.2" height="3.2"/><rect x="171.2" y="176.8" width="3.2" height="3.2"/><rect x="183.8" y="178.5" width="3.2" height="3.2"/><rect x="189.3" y="178.0" width="3.2" height="3.2"/><rect x="194.0" y="178.9" width="3.2" height="3.2"/><rect x="166.9" y="186.9" width="3.2" height="3.2"/><rect x="182.1" y="189.9" width="3.2" height="3.2"/><rect x="197.7" y="175.9" width="3.2" height="3.2"/><rect x="202.7" y="174.7" width="3.2" height="3.2"/><rect x="206.1" y="176.8" width="3.2" height="3.2"/><rect x="205.3" y="181.0" width="3.2" height="3.2"/><rect x="220.5" y="185.6" width="3.2" height="3.2"/><rect x="225.1" y="181.8" width="3.2" height="3.2"/><rect x="212.4" y="189.0" width="3.2" height="3.2"/><rect x="220.9" y="193.7" width="3.2" height="3.2"/><rect x="220.9" y="173.8" width="3.2" height="3.2"/><rect x="225.5" y="173.4" width="3.2" height="3.2"/><rect x="159.0" y="159.3" width="3.2" height="3.2"/><rect x="153.9" y="163.5" width="3.2" height="3.2"/><rect x="158.2" y="163.5" width="3.2" height="3.2"/><rect x="153.9" y="168.6" width="3.2" height="3.2"/><rect x="140.4" y="169.0" width="3.2" height="3.2"/><rect x="131.6" y="177.6" width="3.2" height="3.2"/><rect x="121.9" y="181.8" width="3.2" height="3.2"/><rect x="125.7" y="189.4" width="3.2" height="3.2"/><rect x="130.8" y="188.6" width="3.2" height="3.2"/><rect x="130.4" y="193.2" width="3.2" height="3.2"/><rect x="111.4" y="195.8" width="3.2" height="3.2"/><rect x="137.9" y="177.2" width="3.2" height="3.2"/><rect x="150.6" y="176.8" width="3.2" height="3.2"/><rect x="143.0" y="179.7" width="3.2" height="3.2"/><rect x="156.9" y="181.4" width="3.2" height="3.2"/><rect x="155.2" y="182.7" width="3.2" height="3.2"/><rect x="162.4" y="181.0" width="3.2" height="3.2"/><rect x="162.4" y="183.1" width="3.2" height="3.2"/><rect x="149.7" y="184.8" width="3.2" height="3.2"/><rect x="154.4" y="186.1" width="3.2" height="3.2"/><rect x="150.1" y="188.6" width="3.2" height="3.2"/><rect x="136.2" y="186.9" width="3.2" height="3.2"/><rect x="152.2" y="194.9" width="3.2" height="3.2"/><rect x="157.7" y="195.4" width="3.2" height="3.2"/><rect x="163.2" y="176.8" width="3.2" height="3.2"/><rect x="230.1" y="154.2" width="3.2" height="3.2"/><rect x="238.1" y="155.9" width="3.2" height="3.2"/><rect x="248.7" y="153.4" width="3.2" height="3.2"/><rect x="244.4" y="156.7" width="3.2" height="3.2"/><rect x="245.7" y="158.4" width="3.2" height="3.2"/><rect x="228.8" y="159.3" width="3.2" height="3.2"/><rect x="229.2" y="161.8" width="3.2" height="3.2"/><rect x="251.6" y="160.1" width="3.2" height="3.2"/><rect x="256.7" y="153.8" width="3.2" height="3.2"/><rect x="259.2" y="161.8" width="3.2" height="3.2"/><rect x="232.6" y="164.3" width="3.2" height="3.2"/><rect x="243.6" y="164.3" width="3.2" height="3.2"/><rect x="241.9" y="167.7" width="3.2" height="3.2"/><rect x="236.0" y="167.3" width="3.2" height="3.2"/><rect x="237.7" y="170.7" width="3.2" height="3.2"/><rect x="252.5" y="164.3" width="3.2" height="3.2"/><rect x="255.0" y="165.6" width="3.2" height="3.2"/><rect x="252.5" y="168.6" width="3.2" height="3.2"/><rect x="256.7" y="169.4" width="3.2" height="3.2"/><rect x="259.6" y="156.3" width="3.2" height="3.2"/><rect x="261.7" y="153.8" width="3.2" height="3.2"/><rect x="262.9" y="155.9" width="3.2" height="3.2"/><rect x="265.0" y="153.8" width="3.2" height="3.2"/><rect x="269.3" y="153.8" width="3.2" height="3.2"/><rect x="271.0" y="154.6" width="3.2" height="3.2"/><rect x="280.0" y="159.7" width="3.2" height="3.2"/><rect x="267.6" y="171.5" width="3.2" height="3.2"/><rect x="261.2" y="170.7" width="3.2" height="3.2"/><rect x="279.4" y="172.5" width="3.2" height="3.2"/><rect x="247.4" y="175.9" width="3.2" height="3.2"/><rect x="241.5" y="179.7" width="3.2" height="3.2"/><rect x="249.1" y="180.0" width="3.2" height="3.2"/><rect x="253.7" y="181.8" width="3.2" height="3.2"/><rect x="255.8" y="183.5" width="3.2" height="3.2"/><rect x="259.2" y="179.3" width="3.2" height="3.2"/><rect x="259.2" y="181.4" width="3.2" height="3.2"/><rect x="244.3" y="191.6" width="3.2" height="3.2"/><rect x="247.8" y="193.5" width="3.2" height="3.2"/><rect x="254.2" y="192.8" width="3.2" height="3.2"/><rect x="263.8" y="176.8" width="3.2" height="3.2"/><rect x="268.8" y="179.7" width="3.2" height="3.2"/><rect x="271.4" y="178.9" width="3.2" height="3.2"/><rect x="273.9" y="177.6" width="3.2" height="3.2"/><rect x="276.0" y="176.4" width="3.2" height="3.2"/><rect x="278.1" y="175.1" width="3.2" height="3.2"/><rect x="260.8" y="173.8" width="3.2" height="3.2"/><rect x="257.5" y="129.5" width="3.2" height="3.2"/><rect x="252.9" y="137.1" width="3.2" height="3.2"/><rect x="257.5" y="139.6" width="3.2" height="3.2"/><rect x="233.9" y="144.3" width="3.2" height="3.2"/><rect x="238.1" y="145.6" width="3.2" height="3.2"/><rect x="245.7" y="147.7" width="3.2" height="3.2"/><rect x="251.6" y="148.5" width="3.2" height="3.2"/><rect x="248.7" y="148.9" width="3.2" height="3.2"/><rect x="264.6" y="128.2" width="3.2" height="3.2"/><rect x="266.3" y="132.0" width="3.2" height="3.2"/><rect x="268.0" y="133.3" width="3.2" height="3.2"/><rect x="269.7" y="133.7" width="3.2" height="3.2"/><rect x="277.7" y="127.8" width="3.2" height="3.2"/><rect x="286.6" y="128.2" width="3.2" height="3.2"/><rect x="282.8" y="132.9" width="3.2" height="3.2"/><rect x="273.9" y="143.0" width="3.2" height="3.2"/><rect x="277.7" y="144.7" width="3.2" height="3.2"/><rect x="271.8" y="147.2" width="3.2" height="3.2"/><rect x="265.5" y="145.6" width="3.2" height="3.2"/><rect x="265.0" y="147.7" width="3.2" height="3.2"/><rect x="266.7" y="137.5" width="3.2" height="3.2"/><rect x="284.0" y="124.7" width="3.2" height="3.2"/><rect x="265.9" y="126.8" width="3.2" height="3.2"/><rect x="277.7" y="126.5" width="3.2" height="3.2"/><rect x="202.7" y="141.3" width="3.2" height="3.2"/><rect x="173.9" y="145.4" width="3.2" height="3.2"/><rect x="107.6" y="199.8" width="3.2" height="3.2"/><rect x="109.7" y="198.1" width="3.2" height="3.2"/><rect x="111.8" y="197.2" width="3.2" height="3.2"/><rect x="113.1" y="202.3" width="3.2" height="3.2"/><rect x="101.7" y="204.0" width="3.2" height="3.2"/><rect x="117.7" y="209.5" width="3.2" height="3.2"/><rect x="120.7" y="212.0" width="3.2" height="3.2"/><rect x="128.7" y="213.7" width="3.2" height="3.2"/><rect x="103.4" y="214.6" width="3.2" height="3.2"/><rect x="103.4" y="216.7" width="3.2" height="3.2"/><rect x="115.2" y="216.7" width="3.2" height="3.2"/><rect x="123.2" y="217.1" width="3.2" height="3.2"/><rect x="125.7" y="198.9" width="3.2" height="3.2"/><rect x="120.7" y="198.1" width="3.2" height="3.2"/><rect x="116.4" y="218.5" width="3.2" height="3.2"/><rect x="153.9" y="200.6" width="3.2" height="3.2"/><rect x="143.4" y="206.7" width="3.2" height="3.2"/><rect x="144.6" y="216.0" width="3.2" height="3.2"/><rect x="163.2" y="214.1" width="3.2" height="3.2"/><rect x="163.6" y="217.1" width="3.2" height="3.2"/><rect x="95.8" y="206.5" width="3.2" height="3.2"/><rect x="97.5" y="207.4" width="3.2" height="3.2"/><rect x="88.2" y="212.0" width="3.2" height="3.2"/><rect x="90.4" y="212.9" width="3.2" height="3.2"/><rect x="84.0" y="214.6" width="3.2" height="3.2"/><rect x="94.6" y="213.7" width="3.2" height="3.2"/><rect x="96.7" y="215.4" width="3.2" height="3.2"/><rect x="89.5" y="216.7" width="3.2" height="3.2"/><rect x="83.2" y="218.5" width="3.2" height="3.2"/><rect x="94.2" y="210.3" width="3.2" height="3.2"/><rect x="70.1" y="222.4" width="3.2" height="3.2"/><rect x="79.4" y="224.5" width="3.2" height="3.2"/><rect x="77.3" y="227.8" width="3.2" height="3.2"/><rect x="84.0" y="227.8" width="3.2" height="3.2"/><rect x="84.0" y="231.2" width="3.2" height="3.2"/><rect x="91.6" y="228.7" width="3.2" height="3.2"/><rect x="92.0" y="230.0" width="3.2" height="3.2"/><rect x="97.5" y="236.3" width="3.2" height="3.2"/><rect x="89.1" y="223.2" width="3.2" height="3.2"/><rect x="86.1" y="221.9" width="3.2" height="3.2"/><rect x="71.8" y="230.4" width="3.2" height="3.2"/><rect x="74.3" y="232.1" width="3.2" height="3.2"/><rect x="76.8" y="232.9" width="3.2" height="3.2"/><rect x="70.9" y="234.2" width="3.2" height="3.2"/><rect x="73.9" y="235.4" width="3.2" height="3.2"/><rect x="77.7" y="235.9" width="3.2" height="3.2"/><rect x="70.5" y="237.1" width="3.2" height="3.2"/><rect x="76.0" y="237.6" width="3.2" height="3.2"/><rect x="79.4" y="235.4" width="3.2" height="3.2"/><rect x="74.7" y="240.5" width="3.2" height="3.2"/><rect x="70.1" y="241.4" width="3.2" height="3.2"/><rect x="87.8" y="241.5" width="3.2" height="3.2"/><rect x="95.4" y="221.5" width="3.2" height="3.2"/><rect x="98.4" y="220.7" width="3.2" height="3.2"/><rect x="68.8" y="226.2" width="3.2" height="3.2"/><rect x="73.5" y="229.5" width="3.2" height="3.2"/><rect x="61.3" y="225.3" width="3.2" height="3.2"/><rect x="63.4" y="227.8" width="3.2" height="3.2"/><rect x="54.6" y="230.8" width="3.2" height="3.2"/><rect x="56.7" y="232.1" width="3.2" height="3.2"/><rect x="61.3" y="232.1" width="3.2" height="3.2"/><rect x="59.6" y="233.8" width="3.2" height="3.2"/><rect x="56.2" y="235.0" width="3.2" height="3.2"/><rect x="57.9" y="237.1" width="3.2" height="3.2"/><rect x="52.4" y="238.4" width="3.2" height="3.2"/><rect x="55.8" y="238.8" width="3.2" height="3.2"/><rect x="51.6" y="241.4" width="3.2" height="3.2"/><rect x="67.2" y="234.6" width="3.2" height="3.2"/><rect x="67.7" y="237.6" width="3.2" height="3.2"/><rect x="65.1" y="239.7" width="3.2" height="3.2"/><rect x="64.3" y="241.8" width="3.2" height="3.2"/><rect x="67.7" y="221.9" width="3.2" height="3.2"/><rect x="61.7" y="236.7" width="3.2" height="3.2"/><rect x="60.9" y="239.2" width="3.2" height="3.2"/><rect x="58.8" y="240.9" width="3.2" height="3.2"/><rect x="55.4" y="241.5" width="3.2" height="3.2"/><rect x="66.0" y="232.1" width="3.2" height="3.2"/><rect x="63.4" y="230.4" width="3.2" height="3.2"/><rect x="65.9" y="231.3" width="3.2" height="3.2"/><rect x="83.6" y="215.9" width="3.2" height="3.2"/><rect x="77.3" y="224.4" width="3.2" height="3.2"/><rect x="51.5" y="252.6" width="3.2" height="3.2"/><rect x="50.4" y="253.4" width="3.2" height="3.2"/><rect x="52.2" y="246.2" width="3.2" height="3.2"/><rect x="71.3" y="235.2" width="3.2" height="3.2"/><rect x="55.1" y="243.9" width="3.2" height="3.2"/><rect x="82.3" y="228.2" width="3.2" height="3.2"/><rect x="79.6" y="223.1" width="3.2" height="3.2"/><rect x="101.1" y="204.2" width="3.2" height="3.2"/><rect x="94.8" y="211.3" width="3.2" height="3.2"/><rect x="56.2" y="241.2" width="3.2" height="3.2"/><rect x="65.1" y="240.7" width="3.2" height="3.2"/><rect x="58.2" y="244.9" width="3.2" height="3.2"/><rect x="82.9" y="220.3" width="3.2" height="3.2"/><rect x="78.0" y="219.9" width="3.2" height="3.2"/><rect x="51.6" y="248.5" width="3.2" height="3.2"/><rect x="85.1" y="219.4" width="3.2" height="3.2"/><rect x="65.4" y="237.4" width="3.2" height="3.2"/><rect x="72.9" y="227.1" width="3.2" height="3.2"/><rect x="91.3" y="218.8" width="3.2" height="3.2"/><rect x="61.6" y="241.0" width="3.2" height="3.2"/><rect x="76.8" y="231.4" width="3.2" height="3.2"/><rect x="87.8" y="215.8" width="3.2" height="3.2"/><rect x="101.3" y="205.0" width="3.2" height="3.2"/><rect x="71.0" y="234.6" width="3.2" height="3.2"/><rect x="56.6" y="245.5" width="3.2" height="3.2"/><rect x="50.5" y="256.3" width="3.2" height="3.2"/><rect x="89.7" y="218.2" width="3.2" height="3.2"/><rect x="95.7" y="211.0" width="3.2" height="3.2"/><rect x="85.9" y="221.1" width="3.2" height="3.2"/><rect x="79.7" y="223.7" width="3.2" height="3.2"/><rect x="74.0" y="230.9" width="3.2" height="3.2"/><rect x="51.7" y="254.9" width="3.2" height="3.2"/><rect x="83.3" y="228.1" width="3.2" height="3.2"/><rect x="92.8" y="212.5" width="3.2" height="3.2"/><rect x="69.2" y="235.0" width="3.2" height="3.2"/><rect x="49.6" y="255.1" width="3.2" height="3.2"/><rect x="57.5" y="239.6" width="3.2" height="3.2"/><rect x="51.6" y="255.9" width="3.2" height="3.2"/><rect x="55.4" y="243.9" width="3.2" height="3.2"/><rect x="69.5" y="237.4" width="3.2" height="3.2"/><rect x="52.8" y="250.0" width="3.2" height="3.2"/><rect x="78.1" y="230.5" width="3.2" height="3.2"/><rect x="63.4" y="237.1" width="3.2" height="3.2"/><rect x="67.8" y="239.1" width="3.2" height="3.2"/><rect x="100.1" y="206.1" width="3.2" height="3.2"/><rect x="57.9" y="240.6" width="3.2" height="3.2"/><rect x="61.0" y="240.5" width="3.2" height="3.2"/><rect x="80.2" y="220.8" width="3.2" height="3.2"/><rect x="48.6" y="256.3" width="3.2" height="3.2"/><rect x="68.3" y="234.4" width="3.2" height="3.2"/><rect x="99.9" y="213.3" width="3.2" height="3.2"/><rect x="76.2" y="228.5" width="3.2" height="3.2"/><rect x="84.9" y="214.7" width="3.2" height="3.2"/><rect x="97.0" y="216.2" width="3.2" height="3.2"/><rect x="95.6" y="217.3" width="3.2" height="3.2"/><rect x="69.6" y="231.2" width="3.2" height="3.2"/><rect x="54.0" y="250.7" width="3.2" height="3.2"/><rect x="51.8" y="246.5" width="3.2" height="3.2"/><rect x="59.7" y="237.7" width="3.2" height="3.2"/><rect x="66.8" y="229.2" width="3.2" height="3.2"/><rect x="48.4" y="253.2" width="3.2" height="3.2"/><rect x="53.9" y="247.4" width="3.2" height="3.2"/><rect x="49.8" y="260.2" width="3.2" height="3.2"/><rect x="81.6" y="218.4" width="3.2" height="3.2"/><rect x="62.0" y="237.6" width="3.2" height="3.2"/><rect x="68.1" y="228.9" width="3.2" height="3.2"/><rect x="73.6" y="228.9" width="3.2" height="3.2"/><rect x="53.0" y="245.1" width="3.2" height="3.2"/><rect x="66.9" y="231.8" width="3.2" height="3.2"/><rect x="93.2" y="210.6" width="3.2" height="3.2"/><rect x="49.6" y="261.4" width="3.2" height="3.2"/><rect x="76.9" y="221.8" width="3.2" height="3.2"/><rect x="77.7" y="219.7" width="3.2" height="3.2"/><rect x="76.9" y="232.7" width="3.2" height="3.2"/><rect x="95.0" y="216.4" width="3.2" height="3.2"/><rect x="62.5" y="237.4" width="3.2" height="3.2"/><rect x="57.4" y="248.2" width="3.2" height="3.2"/><rect x="77.2" y="229.9" width="3.2" height="3.2"/><rect x="66.2" y="231.9" width="3.2" height="3.2"/><rect x="94.4" y="218.2" width="3.2" height="3.2"/><rect x="92.6" y="218.5" width="3.2" height="3.2"/><rect x="60.6" y="241.3" width="3.2" height="3.2"/><rect x="74.3" y="249.6" width="3.2" height="3.2"/><rect x="70.5" y="242.8" width="3.2" height="3.2"/><rect x="73.5" y="242.8" width="3.2" height="3.2"/><rect x="76.8" y="242.8" width="3.2" height="3.2"/><rect x="87.8" y="242.4" width="3.2" height="3.2"/><rect x="76.8" y="248.8" width="3.2" height="3.2"/><rect x="63.8" y="257.6" width="3.2" height="3.2"/><rect x="59.2" y="260.6" width="3.2" height="3.2"/><rect x="52.9" y="251.3" width="3.2" height="3.2"/><rect x="59.6" y="260.6" width="3.2" height="3.2"/><rect x="56.0" y="264.9" width="3.2" height="3.2"/><rect x="52.5" y="263.5" width="3.2" height="3.2"/><rect x="46.5" y="265.9" width="3.2" height="3.2"/><rect x="46.8" y="259.2" width="3.2" height="3.2"/><rect x="48.8" y="260.7" width="3.2" height="3.2"/><rect x="52.4" y="243.1" width="3.2" height="3.2"/><rect x="50.6" y="249.7" width="3.2" height="3.2"/><rect x="45.0" y="261.3" width="3.2" height="3.2"/><rect x="48.2" y="263.1" width="3.2" height="3.2"/><rect x="43.6" y="264.8" width="3.2" height="3.2"/><rect x="46.6" y="253.5" width="3.2" height="3.2"/><rect x="59.0" y="247.9" width="3.2" height="3.2"/><rect x="44.0" y="260.1" width="3.2" height="3.2"/><rect x="44.6" y="271.0" width="3.2" height="3.2"/><rect x="55.3" y="248.1" width="3.2" height="3.2"/><rect x="49.8" y="261.9" width="3.2" height="3.2"/><rect x="44.8" y="259.7" width="3.2" height="3.2"/><rect x="52.2" y="256.0" width="3.2" height="3.2"/><rect x="45.5" y="255.1" width="3.2" height="3.2"/><rect x="56.6" y="243.2" width="3.2" height="3.2"/><rect x="53.0" y="260.0" width="3.2" height="3.2"/><rect x="43.6" y="253.0" width="3.2" height="3.2"/><rect x="47.1" y="247.6" width="3.2" height="3.2"/><rect x="58.6" y="252.7" width="3.2" height="3.2"/><rect x="50.9" y="256.0" width="3.2" height="3.2"/><rect x="47.0" y="247.6" width="3.2" height="3.2"/><rect x="52.5" y="251.9" width="3.2" height="3.2"/><rect x="43.7" y="248.9" width="3.2" height="3.2"/><rect x="48.0" y="254.6" width="3.2" height="3.2"/><rect x="57.3" y="254.0" width="3.2" height="3.2"/><rect x="51.9" y="249.5" width="3.2" height="3.2"/><rect x="48.7" y="243.1" width="3.2" height="3.2"/><rect x="46.7" y="243.0" width="3.2" height="3.2"/><rect x="45.4" y="261.4" width="3.2" height="3.2"/><rect x="61.0" y="246.7" width="3.2" height="3.2"/><rect x="49.7" y="262.7" width="3.2" height="3.2"/><rect x="49.9" y="256.3" width="3.2" height="3.2"/><rect x="46.8" y="248.9" width="3.2" height="3.2"/><rect x="47.3" y="252.1" width="3.2" height="3.2"/><rect x="47.6" y="260.8" width="3.2" height="3.2"/><rect x="44.7" y="260.2" width="3.2" height="3.2"/><rect x="47.9" y="256.7" width="3.2" height="3.2"/><rect x="45.6" y="262.6" width="3.2" height="3.2"/><rect x="47.8" y="251.7" width="3.2" height="3.2"/><rect x="49.6" y="255.4" width="3.2" height="3.2"/><rect x="62.1" y="248.4" width="3.2" height="3.2"/><rect x="44.3" y="263.4" width="3.2" height="3.2"/><rect x="46.2" y="243.6" width="3.2" height="3.2"/><rect x="44.2" y="256.8" width="3.2" height="3.2"/><rect x="43.6" y="275.8" width="3.2" height="3.2"/><rect x="51.7" y="242.5" width="3.2" height="3.2"/><rect x="55.2" y="245.0" width="3.2" height="3.2"/><rect x="56.9" y="252.5" width="3.2" height="3.2"/><rect x="56.7" y="250.6" width="3.2" height="3.2"/><rect x="51.8" y="257.7" width="3.2" height="3.2"/><rect x="54.9" y="245.5" width="3.2" height="3.2"/><rect x="44.5" y="252.6" width="3.2" height="3.2"/><rect x="57.0" y="254.6" width="3.2" height="3.2"/><rect x="53.3" y="242.9" width="3.2" height="3.2"/><rect x="55.6" y="254.0" width="3.2" height="3.2"/><rect x="52.2" y="261.0" width="3.2" height="3.2"/><rect x="51.2" y="247.1" width="3.2" height="3.2"/><rect x="60.2" y="250.4" width="3.2" height="3.2"/><rect x="50.8" y="253.1" width="3.2" height="3.2"/><rect x="45.8" y="265.7" width="3.2" height="3.2"/><rect x="44.4" y="263.4" width="3.2" height="3.2"/><rect x="61.4" y="247.7" width="3.2" height="3.2"/><rect x="51.6" y="243.4" width="3.2" height="3.2"/><rect x="50.9" y="254.5" width="3.2" height="3.2"/><rect x="44.4" y="256.2" width="3.2" height="3.2"/><rect x="59.0" y="247.2" width="3.2" height="3.2"/><rect x="49.2" y="258.1" width="3.2" height="3.2"/><rect x="49.0" y="259.5" width="3.2" height="3.2"/><rect x="47.2" y="244.3" width="3.2" height="3.2"/><rect x="43.5" y="275.8" width="3.2" height="3.2"/><rect x="46.6" y="253.0" width="3.2" height="3.2"/><rect x="52.1" y="250.0" width="3.2" height="3.2"/><rect x="56.5" y="244.4" width="3.2" height="3.2"/><rect x="47.4" y="244.4" width="3.2" height="3.2"/><rect x="60.9" y="247.5" width="3.2" height="3.2"/><rect x="51.3" y="256.1" width="3.2" height="3.2"/><rect x="55.2" y="254.4" width="3.2" height="3.2"/><rect x="53.1" y="258.2" width="3.2" height="3.2"/><rect x="44.9" y="248.9" width="3.2" height="3.2"/><rect x="51.8" y="251.2" width="3.2" height="3.2"/><rect x="50.8" y="248.0" width="3.2" height="3.2"/><rect x="45.4" y="246.0" width="3.2" height="3.2"/><rect x="48.6" y="246.0" width="3.2" height="3.2"/><rect x="46.4" y="252.7" width="3.2" height="3.2"/><rect x="49.3" y="255.9" width="3.2" height="3.2"/><rect x="61.7" y="247.4" width="3.2" height="3.2"/><rect x="59.5" y="251.0" width="3.2" height="3.2"/><rect x="47.1" y="252.3" width="3.2" height="3.2"/><rect x="49.8" y="260.2" width="3.2" height="3.2"/><rect x="59.7" y="243.3" width="3.2" height="3.2"/><rect x="53.7" y="242.4" width="3.2" height="3.2"/><rect x="43.7" y="248.6" width="3.2" height="3.2"/><rect x="55.0" y="254.6" width="3.2" height="3.2"/><rect x="44.1" y="252.5" width="3.2" height="3.2"/><rect x="43.8" y="245.2" width="3.2" height="3.2"/><rect x="49.5" y="251.3" width="3.2" height="3.2"/><rect x="54.0" y="242.8" width="3.2" height="3.2"/><rect x="47.7" y="260.8" width="3.2" height="3.2"/><rect x="46.3" y="252.3" width="3.2" height="3.2"/><rect x="47.9" y="243.3" width="3.2" height="3.2"/><rect x="50.2" y="252.7" width="3.2" height="3.2"/><rect x="46.2" y="243.8" width="3.2" height="3.2"/><rect x="48.5" y="259.2" width="3.2" height="3.2"/><rect x="55.7" y="250.3" width="3.2" height="3.2"/><rect x="52.0" y="250.6" width="3.2" height="3.2"/><rect x="58.6" y="251.6" width="3.2" height="3.2"/><rect x="51.8" y="249.9" width="3.2" height="3.2"/><rect x="43.4" y="247.4" width="3.2" height="3.2"/><rect x="43.6" y="248.9" width="3.2" height="3.2"/><rect x="43.3" y="251.0" width="3.2" height="3.2"/><rect x="43.4" y="252.5" width="3.2" height="3.2"/><rect x="43.3" y="254.7" width="3.2" height="3.2"/><rect x="43.3" y="255.7" width="3.2" height="3.2"/><rect x="43.7" y="257.2" width="3.2" height="3.2"/><rect x="43.6" y="259.3" width="3.2" height="3.2"/><rect x="43.7" y="261.5" width="3.2" height="3.2"/><rect x="43.3" y="262.9" width="3.2" height="3.2"/><rect x="43.6" y="265.0" width="3.2" height="3.2"/><rect x="43.6" y="266.0" width="3.2" height="3.2"/><rect x="43.4" y="267.5" width="3.2" height="3.2"/><rect x="43.3" y="268.9" width="3.2" height="3.2"/><rect x="43.4" y="269.9" width="3.2" height="3.2"/><rect x="43.7" y="271.3" width="3.2" height="3.2"/><rect x="43.7" y="272.5" width="3.2" height="3.2"/><rect x="43.4" y="273.7" width="3.2" height="3.2"/><rect x="43.7" y="275.7" width="3.2" height="3.2"/><rect x="43.3" y="277.2" width="3.2" height="3.2"/><rect x="43.4" y="278.8" width="3.2" height="3.2"/><rect x="43.3" y="280.9" width="3.2" height="3.2"/></g>
<g fill="#0f0"><rect x="73.0" y="200.6" width="3.2" height="3.2"/><rect x="79.0" y="205.7" width="3.2" height="3.2"/><rect x="73.0" y="207.4" width="3.2" height="3.2"/><rect x="89.9" y="201.9" width="3.2" height="3.2"/><rect x="89.9" y="204.0" width="3.2" height="3.2"/><rect x="70.9" y="212.4" width="3.2" height="3.2"/><rect x="74.3" y="212.0" width="3.2" height="3.2"/><rect x="74.7" y="214.6" width="3.2" height="3.2"/><rect x="79.4" y="213.7" width="3.2" height="3.2"/><rect x="81.1" y="210.8" width="3.2" height="3.2"/><rect x="85.7" y="211.6" width="3.2" height="3.2"/><rect x="91.6" y="209.5" width="3.2" height="3.2"/><rect x="95.8" y="212.0" width="3.2" height="3.2"/><rect x="99.7" y="204.0" width="3.2" height="3.2"/><rect x="100.1" y="217.1" width="3.2" height="3.2"/><rect x="79.8" y="215.4" width="3.2" height="3.2"/><rect x="70.9" y="196.8" width="3.2" height="3.2"/><rect x="74.3" y="221.9" width="3.2" height="3.2"/><rect x="93.7" y="220.7" width="3.2" height="3.2"/><rect x="93.7" y="225.7" width="3.2" height="3.2"/><rect x="81.5" y="227.4" width="3.2" height="3.2"/><rect x="86.6" y="230.4" width="3.2" height="3.2"/><rect x="88.2" y="232.9" width="3.2" height="3.2"/><rect x="95.8" y="232.9" width="3.2" height="3.2"/><rect x="91.6" y="236.7" width="3.2" height="3.2"/><rect x="68.8" y="222.8" width="3.2" height="3.2"/><rect x="87.8" y="223.2" width="3.2" height="3.2"/><rect x="79.4" y="233.3" width="3.2" height="3.2"/><rect x="81.1" y="236.3" width="3.2" height="3.2"/><rect x="71.4" y="239.2" width="3.2" height="3.2"/><rect x="73.9" y="237.6" width="3.2" height="3.2"/><rect x="79.0" y="239.7" width="3.2" height="3.2"/><rect x="81.1" y="240.9" width="3.2" height="3.2"/><rect x="57.5" y="222.8" width="3.2" height="3.2"/><rect x="63.0" y="222.8" width="3.2" height="3.2"/><rect x="53.3" y="225.7" width="3.2" height="3.2"/><rect x="58.4" y="226.6" width="3.2" height="3.2"/><rect x="60.0" y="228.3" width="3.2" height="3.2"/><rect x="61.7" y="229.5" width="3.2" height="3.2"/><rect x="67.2" y="225.3" width="3.2" height="3.2"/><rect x="46.1" y="234.6" width="3.2" height="3.2"/><rect x="50.3" y="234.6" width="3.2" height="3.2"/><rect x="45.3" y="237.6" width="3.2" height="3.2"/><rect x="49.1" y="239.2" width="3.2" height="3.2"/><rect x="44.8" y="240.5" width="3.2" height="3.2"/><rect x="61.7" y="234.2" width="3.2" height="3.2"/><rect x="65.5" y="223.2" width="3.2" height="3.2"/><rect x="45.3" y="243.7" width="3.2" height="3.2"/><rect x="47.0" y="244.9" width="3.2" height="3.2"/><rect x="52.4" y="256.3" width="3.2" height="3.2"/><rect x="54.1" y="257.6" width="3.2" height="3.2"/><rect x="49.1" y="261.4" width="3.2" height="3.2"/><rect x="50.3" y="262.2" width="3.2" height="3.2"/><rect x="42.7" y="259.3" width="3.2" height="3.2"/><rect x="49.9" y="248.7" width="3.2" height="3.2"/><rect x="61.7" y="247.5" width="3.2" height="3.2"/><rect x="60.9" y="251.7" width="3.2" height="3.2"/><rect x="57.5" y="245.8" width="3.2" height="3.2"/><rect x="46.9" y="266.3" width="3.2" height="3.2"/><rect x="45.2" y="236.0" width="3.2" height="3.2"/><rect x="44.4" y="240.4" width="3.2" height="3.2"/><rect x="47.1" y="239.2" width="3.2" height="3.2"/><rect x="46.0" y="246.3" width="3.2" height="3.2"/><rect x="49.9" y="243.1" width="3.2" height="3.2"/><rect x="48.4" y="245.5" width="3.2" height="3.2"/><rect x="43.6" y="242.4" width="3.2" height="3.2"/></g>
<g fill="#f00"><rect x="82.3" y="197.7" width="3.2" height="3.2"/><rect x="86.6" y="197.2" width="3.2" height="3.2"/><rect x="91.2" y="197.2" width="3.2" height="3.2"/><rect x="95.4" y="196.8" width="3.2" height="3.2"/><rect x="82.3" y="201.0" width="3.2" height="3.2"/><rect x="86.6" y="200.2" width="3.2" height="3.2"/><rect x="84.4" y="202.7" width="3.2" height="3.2"/><rect x="83.6" y="204.8" width="3.2" height="3.2"/><rect x="82.3" y="207.0" width="3.2" height="3.2"/><rect x="86.6" y="207.4" width="3.2" height="3.2"/><rect x="93.3" y="204.4" width="3.2" height="3.2"/><rect x="74.7" y="211.2" width="3.2" height="3.2"/><rect x="72.6" y="216.7" width="3.2" height="3.2"/><rect x="77.3" y="217.1" width="3.2" height="3.2"/><rect x="69.2" y="217.5" width="3.2" height="3.2"/><rect x="81.9" y="214.6" width="3.2" height="3.2"/><rect x="87.0" y="217.5" width="3.2" height="3.2"/><rect x="99.2" y="200.6" width="3.2" height="3.2"/><rect x="83.2" y="222.4" width="3.2" height="3.2"/><rect x="86.1" y="225.3" width="3.2" height="3.2"/><rect x="73.9" y="227.4" width="3.2" height="3.2"/><rect x="68.8" y="232.1" width="3.2" height="3.2"/><rect x="79.0" y="230.0" width="3.2" height="3.2"/><rect x="83.6" y="220.7" width="3.2" height="3.2"/><rect x="60.5" y="222.8" width="3.2" height="3.2"/><rect x="63.8" y="226.2" width="3.2" height="3.2"/><rect x="57.1" y="230.0" width="3.2" height="3.2"/><rect x="52.4" y="232.5" width="3.2" height="3.2"/><rect x="48.6" y="236.7" width="3.2" height="3.2"/><rect x="53.7" y="235.0" width="3.2" height="3.2"/><rect x="54.6" y="240.1" width="3.2" height="3.2"/><rect x="66.0" y="219.8" width="3.2" height="3.2"/><rect x="67.7" y="229.1" width="3.2" height="3.2"/></g>
<g fill="#000"><rect x="67.5" y="223.1" width="3.2" height="3.2"/><rect x="51.7" y="242.9" width="3.2" height="3.2"/><rect x="62.8" y="232.8" width="3.2" height="3.2"/><rect x="96.3" y="205.1" width="3.2" height="3.2"/><rect x="95.4" y="210.0" width="3.2" height="3.2"/><rect x="96.2" y="204.5" width="3.2" height="3.2"/><rect x="61.0" y="231.0" width="3.2" height="3.2"/><rect x="59.8" y="232.1" width="3.2" height="3.2"/><rect x="80.4" y="219.5" width="3.2" height="3.2"/><rect x="90.7" y="208.9" width="3.2" height="3.2"/><rect x="81.7" y="217.7" width="3.2" height="3.2"/><rect x="54.5" y="242.1" width="3.2" height="3.2"/><rect x="94.1" y="209.2" width="3.2" height="3.2"/><rect x="86.4" y="211.8" width="3.2" height="3.2"/><rect x="59.0" y="237.7" width="3.2" height="3.2"/><rect x="66.4" y="230.3" width="3.2" height="3.2"/><rect x="97.0" y="204.2" width="3.2" height="3.2"/><rect x="69.7" y="228.5" width="3.2" height="3.2"/><rect x="85.2" y="210.2" width="3.2" height="3.2"/><rect x="56.5" y="235.5" width="3.2" height="3.2"/><rect x="93.8" y="209.5" width="3.2" height="3.2"/><rect x="57.4" y="239.8" width="3.2" height="3.2"/><rect x="97.5" y="206.1" width="3.2" height="3.2"/><rect x="67.2" y="227.5" width="3.2" height="3.2"/><rect x="56.7" y="234.2" width="3.2" height="3.2"/><rect x="97.0" y="206.3" width="3.2" height="3.2"/><rect x="75.7" y="223.4" width="3.2" height="3.2"/><rect x="71.2" y="226.5" width="3.2" height="3.2"/><rect x="90.1" y="207.2" width="3.2" height="3.2"/><rect x="62.5" y="230.0" width="3.2" height="3.2"/><rect x="56.3" y="251.4" width="3.2" height="3.2"/><rect x="58.7" y="249.4" width="3.2" height="3.2"/><rect x="54.7" y="253.4" width="3.2" height="3.2"/><rect x="59.1" y="253.4" width="3.2" height="3.2"/><rect x="56.9" y="247.9" width="3.2" height="3.2"/></g>
<polyline points="49.5 255.5,59.0 243.3,61.2 240.8,63.6 238.2,66.2 235.6,69.0 233.1,71.9 230.5,74.9 227.9,78.1 225.4,81.4 222.8,84.9 220.3,88.5 217.8,92.2 215.3,96.1 212.8,100.0 210.3,104.1 207.8,108.3 205.4,112.7 203.0,117.1 200.5,121.7 198.1,126.4 195.7,131.1 193.3,136.0 191.0,141.0 188.6,146.1 186.2,151.3 183.9,156.6 181.6,162.0 179.2,167.5 176.9,173.1 174.6,178.8 172.3,184.6 170.1,190.5 167.8,196.5 165.5,202.6 163.3,208.7 161.0,215.0 158.8,221.3 156.5,227.8 154.3,234.3 152.1,240.9 149.9,247.6 147.7,254.4 145.5,261.3 143.3,268.2 141.1,275.3 139.0,282.4 136.8,289.6 134.7,296.9 132.5,304.2 130.4,311.7 128.2,319.2 126.1,326.8 124.0,334.5 121.9,342.3 119.7" fill="none" stroke="#3ff" stroke-width="1.6" stroke-linecap="butt" stroke-linejoin="round"/>
<g stroke="#000" stroke-width="1.1" fill="none" shape-rendering="auto">
<path d="M38.5 34.2V286.2H375.8"/>
<path d="M33 276.3H38.5"/>
<path d="M33 227.8H38.5"/>
<path d="M33 179.3H38.5"/>
<path d="M33 130.8H38.5"/>
<path d="M33 82.3H38.5"/>
<path d="M42 33.8H47.5"/>
<path d="M35.5 252.1H38.5"/>
<path d="M35.5 203.6H38.5"/>
<path d="M35.5 155.1H38.5"/>
<path d="M35.5 106.6H38.5"/>
<path d="M35.5 58.1H38.5"/>
<path d="M44.6 286.2V291.8"/>
<path d="M110.8 286.2V291.8"/>
<path d="M176.9 286.2V291.8"/>
<path d="M243.1 286.2V291.8"/>
<path d="M309.2 286.2V291.8"/>
<path d="M375.4 286.2V291.8"/>
<path d="M77.7 286.2V289.1"/>
<path d="M143.8 286.2V289.1"/>
<path d="M210.0 286.2V289.1"/>
<path d="M276.1 286.2V289.1"/>
<path d="M342.3 286.2V289.1"/>
</g>
<g font-size="12.6px" text-anchor="middle">
<text x="44.6" y="303.3">0</text>
<text x="110.8" y="303.3">1</text>
<text x="176.9" y="303.3">2</text>
<text x="243.1" y="303.3">3</text>
<text x="309.2" y="303.3">4</text>
<text x="375.4" y="303.3">5</text>
</g>
<g font-size="12.6px" text-anchor="end">
<text x="30.5" y="280.2">0</text>
<text x="30.5" y="231.7">1</text>
<text x="30.5" y="183.2">2</text>
<text x="30.5" y="134.7">3</text>
<text x="30.5" y="86.2">4</text>
<text x="30.5" y="37.7">5</text>
</g>
<text x="162.9" y="321.2" font-size="15px" xml:space="preserve"><tspan font-style="italic">J</tspan>(O<tspan font-size="8.8px" dy="-7.9">1</tspan><tspan dy="7.9" word-spacing="1.3">D) / 10</tspan><tspan font-size="8.8px" dy="-7.9">-5</tspan><tspan dy="7.9" word-spacing="0.1"> s</tspan><tspan font-size="8.8px" dy="-7.9">-1</tspan></text>
<text transform="translate(16.3 235) rotate(-90)" font-size="15px" xml:space="preserve">[HO<tspan font-size="8.8px" dy="4">2</tspan><tspan dy="-4" word-spacing="0.9">] / 10</tspan><tspan font-size="8.8px" dy="-8.8">8</tspan><tspan dy="8.8" word-spacing="1.9"> molecule cm</tspan><tspan font-size="8.8px" dy="-8.8">-3</tspan></text>
<rect x="38.2" y="1.3" width="328.6" height="21.9" fill="#fff" stroke="#333" stroke-width="0.9"/>
<rect x="55.4" y="10" width="5" height="4.8" fill="#000"/>
<text x="66" y="17.3" font-size="14.7px">SOS1</text>
<rect x="106" y="10" width="5" height="4.8" fill="#f00"/>
<text x="116.3" y="17.3" font-size="14.7px">SOS2</text>
<rect x="156.7" y="10" width="5" height="4.8" fill="#0f0"/>
<text x="166.5" y="17.3" font-size="14.7px">SOS3</text>
<path d="M207.2 12.2H237.5" stroke="#3ff" stroke-width="1.5"/>
<text x="244.4" y="17.3" font-size="14.7px">fit through all data</text>
</svg>
</body></html>
